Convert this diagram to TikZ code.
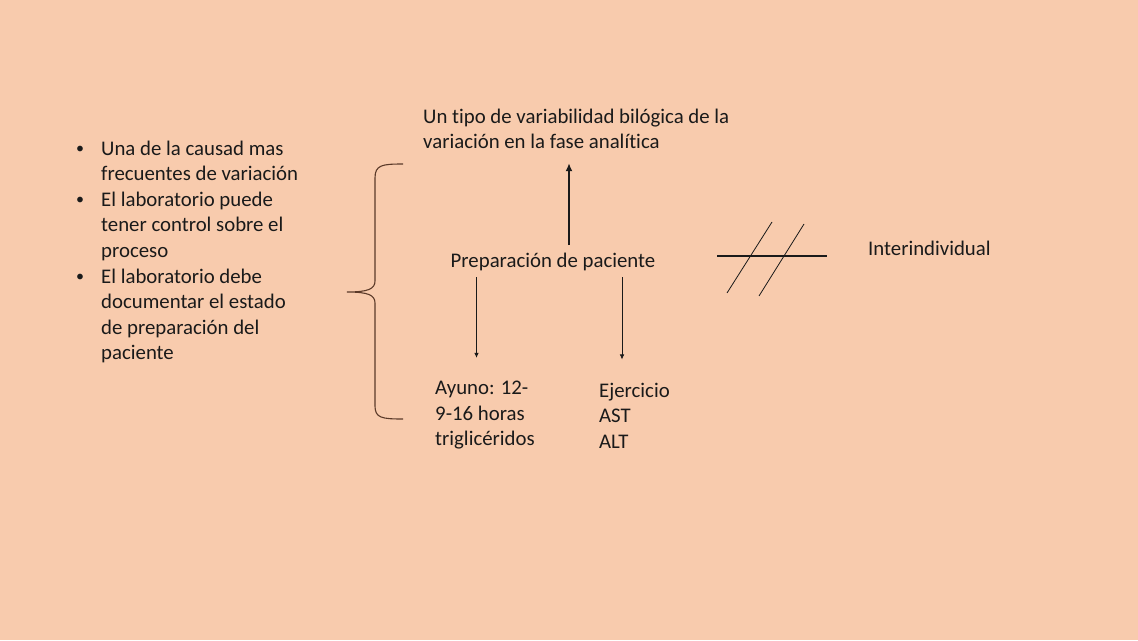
\documentclass[tikz,border=0pt]{standalone}
\usepackage{fontspec}
\setmainfont{Carlito}[Ligatures=CommonOff]
\usetikzlibrary{positioning,arrows.meta}
\definecolor{slidebg}{HTML}{F8CBAD}
\definecolor{bracecol}{HTML}{5B3A29}
\definecolor{inkcol}{HTML}{1A1A1A}
\tikzset{
  slidetext/.style={font=\fontsize{20.8}{25.6}\selectfont, inner sep=0pt, text=inkcol, align=left},
  bulletdot/.style={font=\fontsize{16}{20}\selectfont, inner sep=0pt, text=inkcol},
  uparrow/.style={-{Latex[length=8pt,width=7pt]}, line width=2.6pt, inkcol},
  downarrow/.style={-{Latex[length=5pt,width=4.5pt]}, line width=0.7pt, inkcol},
}
\begin{document}
\begin{tikzpicture}[x=1pt,y=-1pt]
  \fill[slidebg] (0,0) rectangle (1138,640);
  \useasboundingbox (0,0) rectangle (1138,640);

  % left list (base = last line)
  \node[slidetext, anchor=base west] (item1) at (101,180.6) {Una de la causad mas\\frecuentes de variación};
  \node[slidetext, anchor=base west] (item2) at (101,257.4) {El laboratorio puede\\tener control sobre el\\proceso};
  \node[slidetext, anchor=base west] (item3) at (101,359.8) {El laboratorio debe\\documentar el estado\\de preparación del\\paciente};
  \foreach \n/\y in {1/155,2/206.2,3/283}
    \node[bulletdot, anchor=base west] (dot\n) at (76,\y-2) {•};

  % brace
  \draw[bracecol, line width=1.1pt] (403,164) .. controls (382,164) and (375,165) .. (375,178)
    -- (375,281) .. controls (375,289) and (368,292) .. (347,292)
    .. controls (368,292) and (375,295) .. (375,303)
    -- (375,406) .. controls (375,418) and (382,419) .. (403,419);

  % center
  \node[slidetext, anchor=base west] (tipo) at (423,148.8) {Un tipo de variabilidad bilógica de la\\variación en la fase analítica};
  \node[slidetext, anchor=base] (prep) at (553,267.7) {Preparación de paciente};
  \node[slidetext, anchor=base west] (ayuno) at (435,445.7) {Ayuno: 12-\\9-16 horas\\triglicéridos};
  \node[slidetext, anchor=base west] (ejer) at (599,448.2) {Ejercicio\\AST\\ALT};
  \node[slidetext, anchor=base west] (inter) at (868,255.7) {Interindividual};

  \coordinate (upx) at (569,0);
  \coordinate (ayx) at (476.5,0);
  \coordinate (ejx) at (622,0);
  \draw[uparrow] ([yshift=8pt]prep.north -| upx) -- ([yshift=-14pt]tipo.south -| upx);
  \draw[downarrow] ([yshift=-6pt]prep.south -| ayx) -- ([yshift=23pt]ayuno.north -| ayx);
  \draw[downarrow] ([yshift=-6pt]prep.south -| ejx) -- ([yshift=23pt]ejer.north -| ejx);

  % not equal sign
  \draw[inkcol, line width=1.4pt] (717,256) -- (827,256);
  \draw[inkcol, line width=0.8pt] (727,293) -- (772,222);
  \draw[inkcol, line width=0.8pt] (759,296) -- (804,224);
\end{tikzpicture}
\end{document}
